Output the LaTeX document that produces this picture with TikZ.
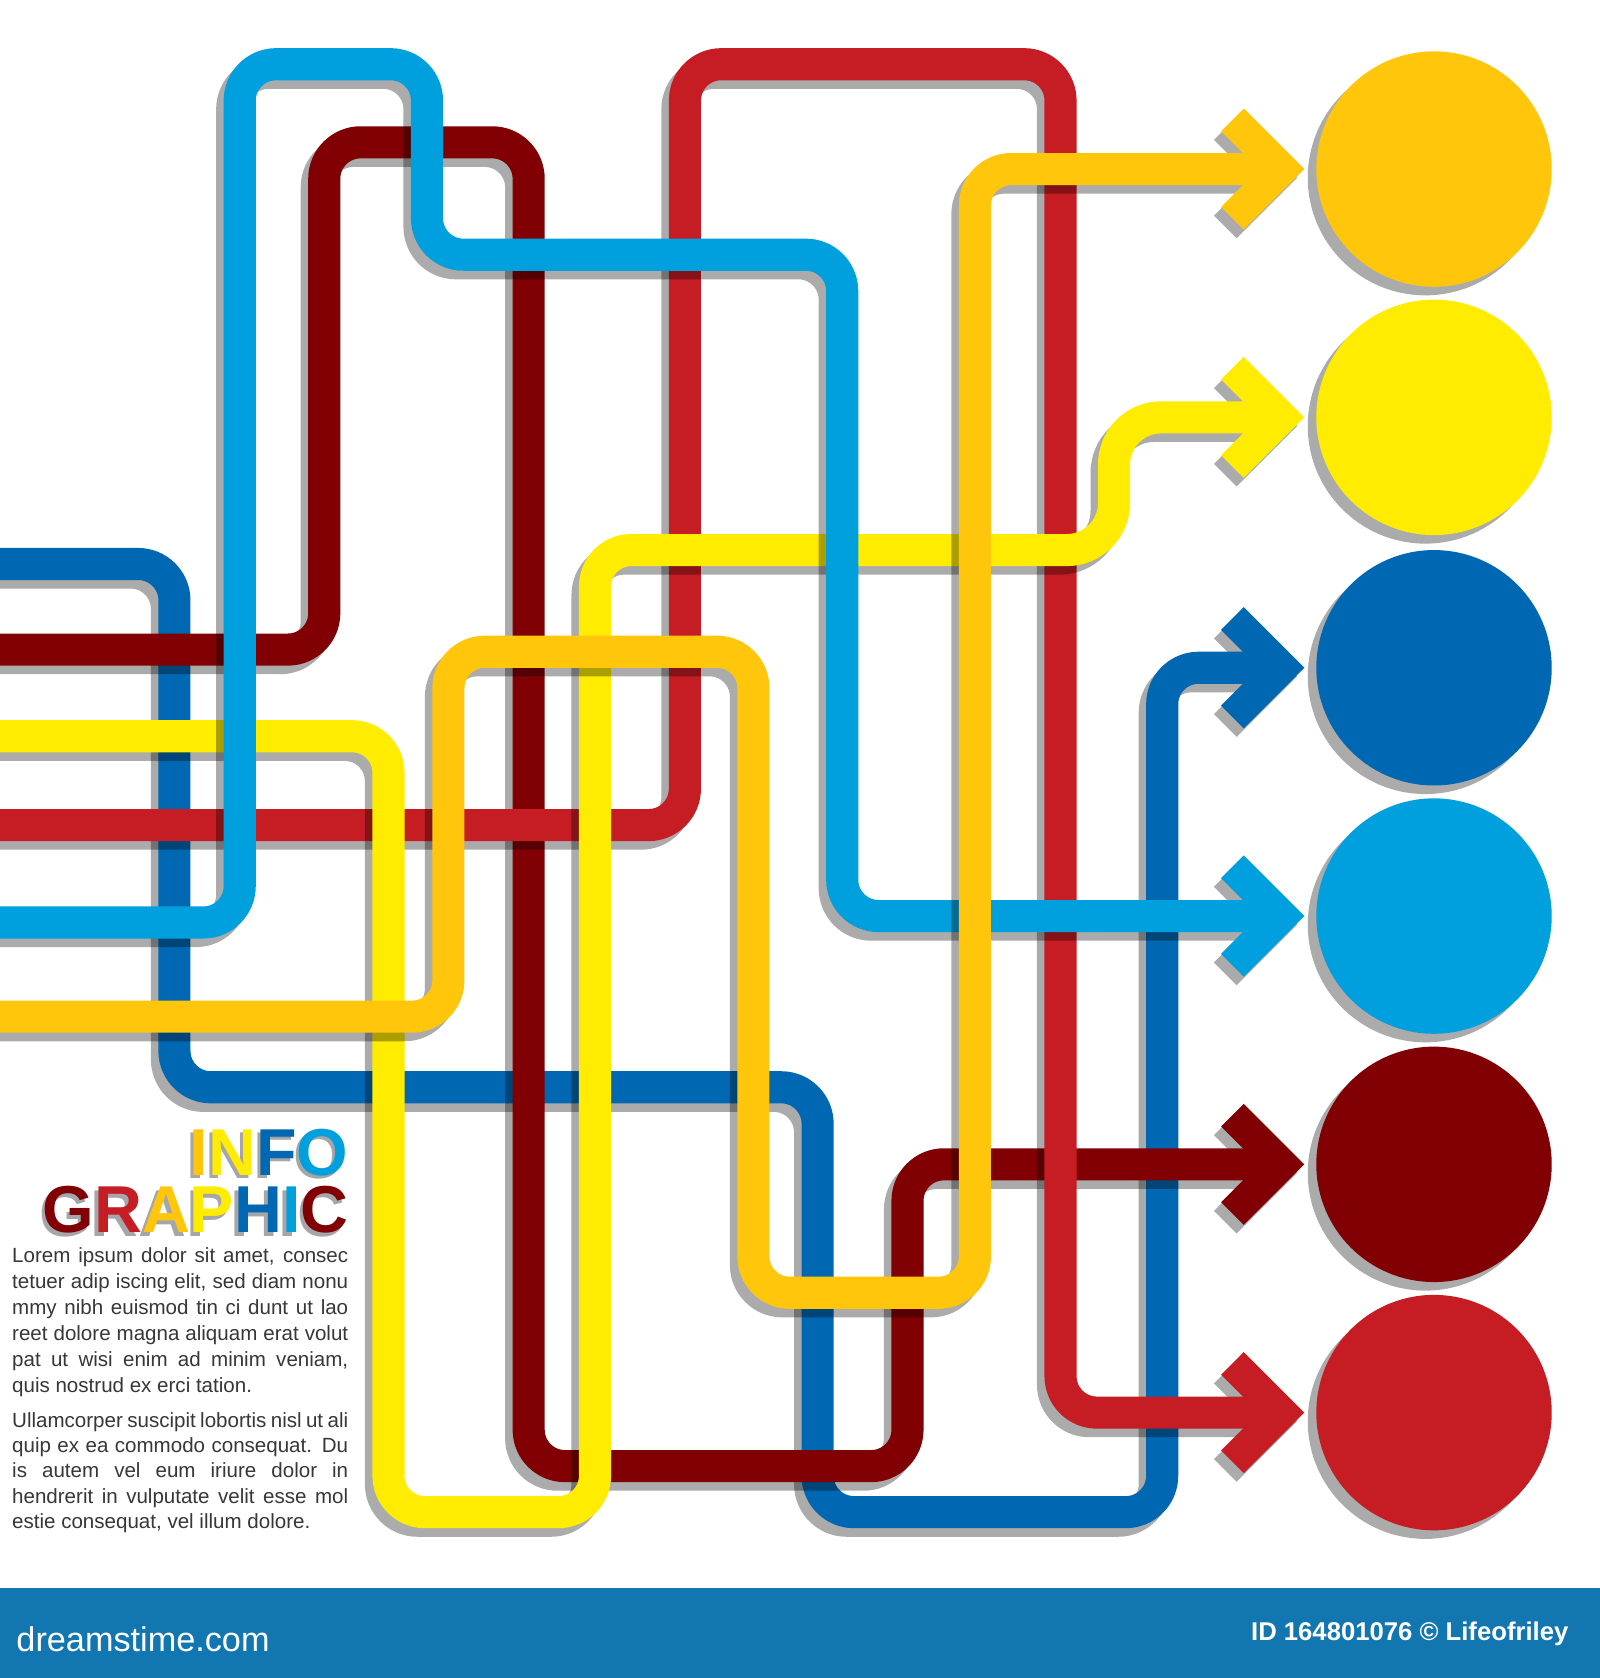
\documentclass[tikz,border=0pt]{standalone}
\usepackage{fontspec}
\setmainfont{Liberation Sans}
\usetikzlibrary{calc}
\definecolor{cGold}{RGB}{255,198,11}
\definecolor{cYel}{RGB}{255,236,0}
\definecolor{cDB}{RGB}{0,103,178}
\definecolor{cLB}{RGB}{0,160,222}
\definecolor{cBr}{RGB}{128,0,4}
\definecolor{cRed}{RGB}{198,29,36}
\definecolor{cFoot}{RGB}{18,118,177}
\definecolor{cTxt}{RGB}{55,55,55}
\definecolor{cTShad}{RGB}{165,166,170}
\newcommand\jl[1]{\makebox[157pt][s]{#1}}
\newcommand\shd[1]{\rlap{\kern-1.5pt\raisebox{-1.5pt}{\textcolor{cTShad}{#1}}}}
% #1 colour, #2 path, #3 arrow y, #4 target disc
\newcommand\mystrand[4]{%
  \draw[pshadow] #2 -- (1198,#3);
  \draw[cshadow] (1152,{#3-46}) -- (1198,#3) -- (1152,{#3+46});
  \draw[pipe, draw=#1] #2 -- ($(#4.west)+(-32,0)$);
  \draw[chev, draw=#1] ($(#4.west)+(-78,-46)$) -- ($(#4.west)+(-32,0)$) -- ($(#4.west)+(-78,46)$);
}
\begin{document}
\begin{tikzpicture}[x=0.5pt,y=-0.5pt,
  pipe/.style={line width=15pt, rounded corners=17pt, line cap=butt, line join=round},
  pshadow/.style={pipe, draw=black, draw opacity=0.33, shift={(-7,8)}},
  chev/.style={line width=15pt, line cap=butt, line join=miter},
  cshadow/.style={chev, draw=black, draw opacity=0.33, shift={(-7,8)}},
  disc/.style={circle, minimum size=110pt, inner sep=0pt, draw=none},
  dshadow/.style={fill=black, fill opacity=0.33},
  bodytxt/.style={anchor=base west, inner sep=0pt, text=cTxt, font=\fontsize{9.6}{11}\selectfont},
]
\useasboundingbox (0,0) rectangle (1495,1568);
\fill[white] (0,0) rectangle (1495,1568);

% target discs
\fill[dshadow] (1332,166) circle[radius=55pt];
\node[disc, fill=cGold] (cg) at (1340,158) {};
\fill[dshadow] (1332,398) circle[radius=55pt];
\node[disc, fill=cYel] (cy) at (1340,390) {};
\fill[dshadow] (1332,632) circle[radius=55pt];
\node[disc, fill=cDB] (cd) at (1340,624) {};
\fill[dshadow] (1332,864) circle[radius=55pt];
\node[disc, fill=cLB] (cl) at (1340,856) {};
\fill[dshadow] (1332,1096) circle[radius=55pt];
\node[disc, fill=cBr] (cb) at (1340,1088) {};
\fill[dshadow] (1332,1328) circle[radius=55pt];
\node[disc, fill=cRed] (cr) at (1340,1320) {};

% strands, bottom to top
\mystrand{cDB}{(0,527) -- (163,527) -- (163,1016) -- (764,1016) -- (764,1413) -- (1086,1413) -- (1086,624)}{624}{cd}
\mystrand{cBr}{(0,607) -- (303,607) -- (303,133) -- (494,133) -- (494,1370) -- (848,1370) -- (848,1088)}{1088}{cb}
\mystrand{cRed}{(0,771) -- (640,771) -- (640,60) -- (991,60) -- (991,1320)}{1320}{cr}
\mystrand{cYel}{(0,688) -- (363,688) -- (363,1413) -- (556,1413) -- (556,514) [rounded corners=22pt] -- (1041,514) -- (1041,390)}{390}{cy}
\mystrand{cLB}{(0,862) -- (224,862) -- (224,60) -- (399,60) -- (399,238) -- (787,238) -- (787,856)}{856}{cl}
\mystrand{cGold}{(0,950) -- (419,950) -- (419,609) -- (704,609) -- (704,1208) -- (911,1208) -- (911,158)}{158}{cg}

% title
\node[anchor=base east, inner sep=0pt, font=\fontsize{31}{27}\selectfont\bfseries] (title) at (326,1152)
  {\vbox{\baselineskip=27pt\lineskiplimit=-20pt
   \hbox to 146pt{\hfill\shd{INFO}\textcolor{cGold}{I}\textcolor{cYel}{N}\textcolor{cDB}{F}\textcolor{cLB}{O}}
   \hbox to 146pt{\hfill\shd{GRAPHIC}\textcolor{cBr}{G}\textcolor{cRed}{R}\textcolor{cGold}{A}\textcolor{cYel}{P}\textcolor{cDB}{H}\textcolor{cLB}{I}\textcolor{cBr}{C}}}};

% body text
\node[bodytxt] (l1) at (11,1180) {\jl{Lorem ipsum dolor sit amet, consec}};
\node[bodytxt] (l2) at (11,1204.3) {\jl{tetuer adip iscing elit, sed diam nonu}};
\node[bodytxt] (l3) at (11,1228.6) {\jl{mmy nibh euismod tin ci dunt ut lao}};
\node[bodytxt] (l4) at (11,1252.9) {\jl{reet dolore magna aliquam erat volut}};
\node[bodytxt] (l5) at (11,1277.2) {\jl{pat ut wisi enim ad minim veniam,}};
\node[bodytxt] (l6) at (11,1301.5) {quis nostrud ex erci tation.};
\node[bodytxt] (l7) at (11,1334) {\jl{Ullamcorper suscipit lobortis nisl ut ali}};
\node[bodytxt] (l8) at (11,1357.5) {\jl{quip ex ea commodo consequat. Du}};
\node[bodytxt] (l9) at (11,1381) {\jl{is autem vel eum iriure dolor in}};
\node[bodytxt] (l10) at (11,1404.5) {\jl{hendrerit in vulputate velit esse mol}};
\node[bodytxt] (l11) at (11,1428) {estie consequat, vel illum dolore.};

% footer
\fill[cFoot] (0,1484) rectangle (1495,1568);
\node[anchor=west, inner sep=0pt, text=white, font=\fontsize{16}{16}\selectfont] (dt) at (15,1532) {dreamstime.com};
\node[anchor=east, inner sep=0pt, text=white, font=\fontsize{12}{12}\selectfont\bfseries] (idt) at (1466,1527) {ID 164801076 © Lifeofriley};
\end{tikzpicture}
\end{document}
